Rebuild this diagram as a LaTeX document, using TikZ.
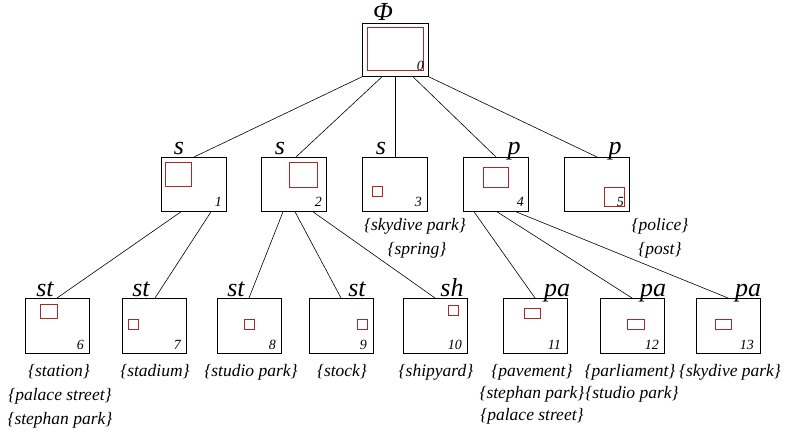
\documentclass[tikz,border=0pt]{standalone}
\usepackage{fontspec}
\setmainfont{Liberation Serif}
\definecolor{rbc}{RGB}{170,40,40}
\begin{document}
\begin{tikzpicture}[x=1pt,y=-1pt,
 box/.style={draw,line width=0.8pt,inner sep=0pt,anchor=north west},
 rb/.style={draw=rbc,line width=1pt},
 lab/.style={font=\fontsize{26}{26}\selectfont\itshape,anchor=base,inner sep=0pt},
 num/.style={font=\fontsize{14}{14}\selectfont\itshape,anchor=base east,inner sep=0pt},
 set/.style={font=\fontsize{17.5}{17.5}\selectfont\itshape,anchor=base,inner sep=0pt},
 edge/.style={line width=0.6pt}]
\useasboundingbox (0,0) rectangle (787,433);
\node[box,minimum width=66pt,minimum height=53pt] (b0) at (362,23) {};
\foreach \n/\x in {1/161,2/261,3/362,4/463,5/564}
  \node[box,minimum width=65pt,minimum height=54pt] (b\n) at (\x,157) {};
\foreach \n/\x in {6/25,7/122,8/217,9/309,10/403,11/503,12/600,13/696}
  \node[box,minimum width=64pt,minimum height=55pt] (b\n) at (\x,298) {};
% red rectangles
\draw[rb] (367,28) rectangle (423,71);
\draw[rb] (165,162) rectangle (191,186);
\draw[rb] (289,162) rectangle (317,187);
\draw[rb] (372,186) rectangle (382,196);
\draw[rb] (483,167) rectangle (508,187);
\draw[rb] (604,187) rectangle (624,206);
\draw[rb] (40,304) rectangle (57,318);
\draw[rb] (128,319) rectangle (138,329);
\draw[rb] (244,319) rectangle (254,329);
\draw[rb] (357,319) rectangle (367,329);
\draw[rb] (448,305) rectangle (458,315);
\draw[rb] (524,308) rectangle (540,318);
\draw[rb] (627,319) rectangle (644,329);
\draw[rb] (715,319) rectangle (731,329);
% numbers
\foreach \n/\x/\y in {0/424/71,1/222/206,2/322/206,3/422/206,4/524/206,5/624/206,
 6/84/349,7/181/349,8/276/349,9/367/349,10/462/349,11/561/349,12/659/349,13/754/349}
  \node[num] at (\x,\y) {\n};
% type labels
\node[lab] at (383,21) {Φ};
\foreach \t/\x in {s/179,s/280,s/381,p/514,p/615}
  \node[lab] at (\x,154) {\t};
\foreach \t/\x in {st/45,st/141,st/236,st/357,sh/452,pa/557,pa/653,pa/748}
  \node[lab] at (\x,296) {\t};
% edges
\draw[edge] (b0.south west) -- ([xshift=33pt]b1.north west);
\draw[edge] ([xshift=20pt]b0.south west) -- ([xshift=35pt]b2.north west);
\draw[edge] ([xshift=33pt]b0.south west) -- ([xshift=33pt]b3.north west);
\draw[edge] ([xshift=51pt]b0.south west) -- ([xshift=33pt]b4.north west);
\draw[edge] (b0.south east) -- ([xshift=33pt]b5.north west);
\draw[edge] ([xshift=20pt]b1.south west) -- ([xshift=32pt]b6.north west);
\draw[edge] ([xshift=50pt]b1.south west) -- ([xshift=33pt]b7.north west);
\draw[edge] ([xshift=22pt]b2.south west) -- ([xshift=32pt]b8.north west);
\draw[edge] ([xshift=34pt]b2.south west) -- ([xshift=32pt]b9.north west);
\draw[edge] ([xshift=52pt]b2.south west) -- ([xshift=32pt]b10.north west);
\draw[edge] ([xshift=11pt]b4.south west) -- ([xshift=32pt]b11.north west);
\draw[edge] ([xshift=34pt]b4.south west) -- ([xshift=32pt]b12.north west);
\draw[edge] ([xshift=53pt]b4.south west) -- ([xshift=32pt]b13.north west);
% sets
\node[set] at (415,230) {\{skydive park\}};
\node[set] at (417,254) {\{spring\}};
\node[set] at (660,230) {\{police\}};
\node[set] at (660,254) {\{post\}};
\node[set] at (59,376) {\{station\}};
\node[set] at (60,400) {\{palace street\}};
\node[set] at (60,424) {\{stephan park\}};
\node[set] at (155,376) {\{stadium\}};
\node[set] at (251,376) {\{studio park\}};
\node[set] at (342,376) {\{stock\}};
\node[set] at (436,376) {\{shipyard\}};
\node[set] at (532,376) {\{pavement\}};
\node[set] at (532,398) {\{stephan park\}};
\node[set] at (532,420) {\{palace street\}};
\node[set] at (630,376) {\{parliament\}};
\node[set] at (632,398) {\{studio park\}};
\node[set] at (730,376) {\{skydive park\}};
\end{tikzpicture}
\end{document}
